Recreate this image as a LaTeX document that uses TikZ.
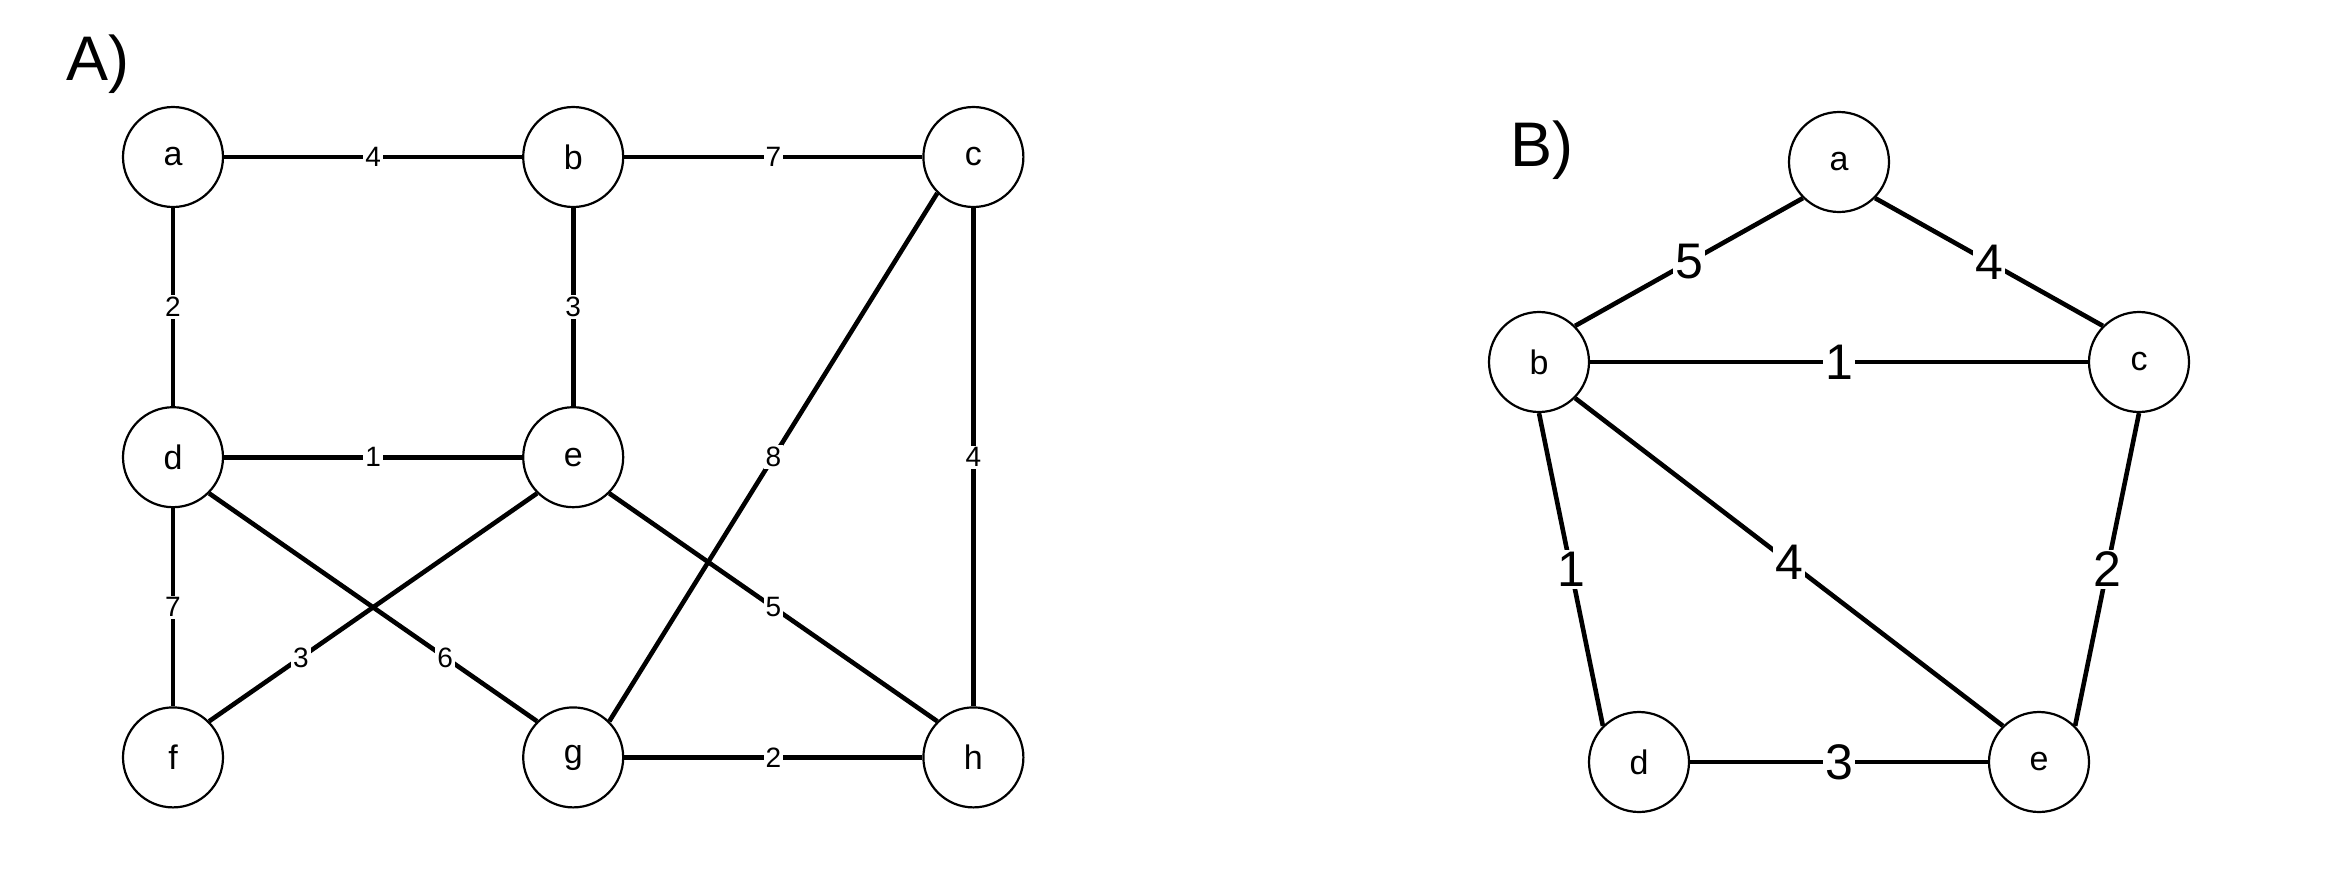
\documentclass[tikz,border=0pt]{standalone}
\usepackage{fontspec}
\setmainfont{Liberation Sans}
\usepackage{tikz}
\usetikzlibrary{positioning}
\tikzset{
  g/vertex/.style={draw, circle, line width=1.1pt, minimum size=50pt, inner sep=0pt, font=\fontsize{17}{19}\selectfont},
  g/edge/.style={line width=2.3pt},
  g/weight/.style={fill=white, inner sep=1pt, font=\fontsize{14}{16}\selectfont},
  g/bigweight/.style={g/weight, font=\fontsize{25}{28}\selectfont},
  g/panel/.style={inner sep=0pt, anchor=base west, font=\fontsize{31.5}{36}\selectfont}
}

\begin{document}
\begin{tikzpicture}[x=0.5pt, y=-0.5pt, node distance=99pt and 149pt]
  \useasboundingbox (0,0) rectangle (2325,895);
  % A) grid graph
  \node[g/panel] (labA) at (66,80) {A)};
  \node[g/vertex] (a) at (173,157) {a};
  \node[g/vertex, right=of a] (b) {b};
  \node[g/vertex, right=of b] (c) {c};
  \node[g/vertex, below=of a] (d) {d};
  \node[g/vertex, below=of b] (e) {e};
  \node[g/vertex, below=of d] (f) {f};
  \node[g/vertex, below=of e] (g) {g};
  \node[g/vertex, right=of g] (h) {h};
  \draw[g/edge] (a) -- node[g/weight] {4} (b);
  \draw[g/edge] (b) -- node[g/weight] {7} (c);
  \draw[g/edge] (a) -- node[g/weight] {2} (d);
  \draw[g/edge] (b) -- node[g/weight] {3} (e);
  \draw[g/edge] (d) -- node[g/weight] {1} (e);
  \draw[g/edge] (c.-135) -- node[g/weight] {8} (g.45);
  \draw[g/edge] (c) -- node[g/weight] {4} (h);
  \draw[g/edge] (d) -- node[g/weight] {7} (f);
  \draw[g/edge] (e.-135) -- node[g/weight, pos=0.72] {3} (f.45);
  \draw[g/edge] (d.-45) -- node[g/weight, pos=0.72] {6} (g.135);
  \draw[g/edge] (e.-45) -- node[g/weight] {5} (h.135);
  \draw[g/edge] (g) -- node[g/weight] {2} (h);

  % B) pentagon
  \node[g/panel] (labB) at (1510,166) {B)};
  \node[g/vertex] (pa) at (1839,162) {a};
  \node[g/vertex] (pb) at (1539,362) {b};
  \node[g/vertex] (pc) at (2139,362) {c};
  \node[g/vertex] (pd) at (1639,762) {d};
  \node[g/vertex] (pe) at (2039,762) {e};
  \draw[g/edge] (pa.-135) -- node[g/bigweight] {5} (pb.45);
  \draw[g/edge] (pa.-45) -- node[g/bigweight] {4} (pc.135);
  \draw[g/edge] (pb) -- node[g/bigweight] {1} (pc);
  \draw[g/edge] (pb.south) -- node[g/bigweight] {1} (pd.135);
  \draw[g/edge] (pb.-45) -- node[g/bigweight] {4} (pe.135);
  \draw[g/edge] (pc.south) -- node[g/bigweight] {2} (pe.45);
  \draw[g/edge] (pd) -- node[g/bigweight] {3} (pe);
\end{tikzpicture}
\end{document}
